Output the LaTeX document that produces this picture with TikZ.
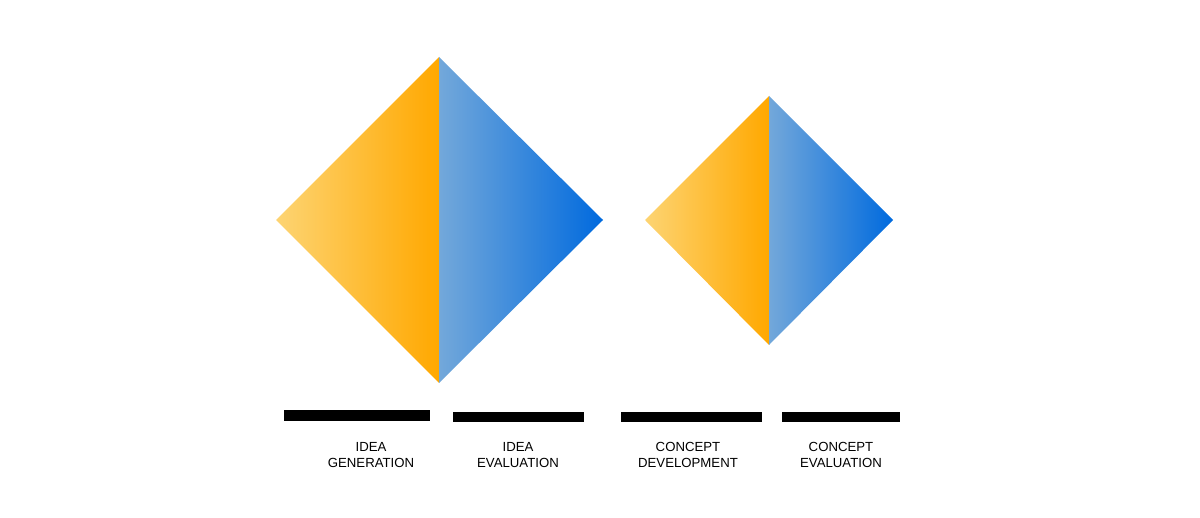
\documentclass[tikz,border=0pt]{standalone}
\usepackage{fontspec}
\setmainfont{Liberation Sans}
\usetikzlibrary{positioning}
\definecolor{ylight}{RGB}{253,212,115}
\definecolor{ydark}{RGB}{255,168,0}
\definecolor{blight}{RGB}{115,168,218}
\definecolor{bdark}{RGB}{0,106,222}
\begin{document}
\begin{tikzpicture}[x=0.5pt,y=-0.5pt,
bar/.style={fill=black,draw=none},
stage/.style={font=\fontsize{6.6}{8}\selectfont,align=center,inner sep=0pt}]
\useasboundingbox (0,0) rectangle (1200,518);
% big diamond
\coordinate (bigL) at (276,220);
\coordinate (bigT) at (439,57);
\coordinate (bigR) at (603,220);
\coordinate (bigB) at (439,383);
\shade[left color=ylight,right color=ydark] (bigL) -- (bigT) -- (bigB) -- cycle;
\shade[left color=blight,right color=bdark] (bigT) -- (bigR) -- (bigB) -- cycle;
% small diamond
\coordinate (smallL) at (645,220);
\coordinate (smallT) at (769,96);
\coordinate (smallR) at (893,220);
\coordinate (smallB) at (769,345);
\shade[left color=ylight,right color=ydark] (smallL) -- (smallT) -- (smallB) -- cycle;
\shade[left color=blight,right color=bdark] (smallT) -- (smallR) -- (smallB) -- cycle;
% bars
\fill[bar] (284,410) rectangle (430,421);
\fill[bar] (453,412) rectangle (584,422);
\fill[bar] (621,412) rectangle (762,422);
\fill[bar] (782,412) rectangle (900,422);
% labels
\node (gen) [stage] at (371,455) {IDEA\\GENERATION};
\node (ieval) [stage] at (518,455) {IDEA\\EVALUATION};
\node (dev) [stage] at (688,455) {CONCEPT\\DEVELOPMENT};
\node (ceval) [stage] at (841,455) {CONCEPT\\EVALUATION};
\end{tikzpicture}
\end{document}
